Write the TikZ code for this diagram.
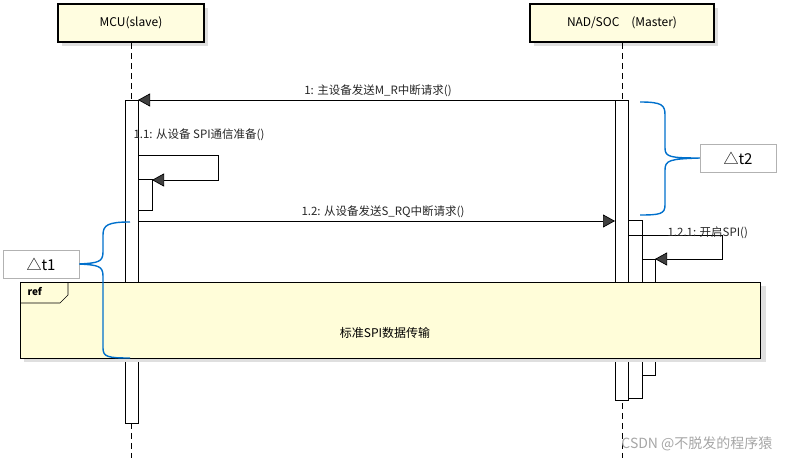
\documentclass[tikz,border=0pt]{standalone}
\usepackage{fontspec}
\setmainfont{Noto Sans CJK SC}
\usetikzlibrary{arrows.meta}
\begin{document}
\begin{tikzpicture}[x=1pt,y=-1pt,
  actor/.style={draw,line width=1.6pt,fill=yellow!12,minimum width=146pt,minimum height=38pt,font=\fontsize{12}{14}\selectfont},
  act/.style={draw,fill=white,line width=0.7pt},
  msg/.style={line width=0.7pt,-{Triangle[length=12pt,width=13pt,fill=gray!50!black]}},
  lbl/.style={font=\fontsize{11.5}{13}\selectfont,text=black!85},
  brace/.style={draw=blue!45!cyan!80!black,line width=1.4pt},
  dbox/.style={draw=gray!60,fill=white,font=\fontsize{15}{17}\selectfont,minimum width=76pt,minimum height=28pt}]
\useasboundingbox (0,0) rectangle (789,465);
\fill[gray!25] (62,8) rectangle (208,46);
\node[actor] (mcu) at (131,23) {MCU(slave)};
\fill[gray!25] (534,8) rectangle (718,46);
\node[actor,minimum width=184pt] (nad) at (622,23) {NAD/SOC\quad (Master)};
\draw[line width=0.7pt,dash pattern=on 6pt off 4pt] (mcu.south) -- (131,458) coordinate (mcuend);
\draw[line width=0.7pt,dash pattern=on 6pt off 4pt] (nad.south) -- (622,458) coordinate (nadend);
% activations
\draw[act] (125,100) rectangle (138,423);
\draw[act] (138,179) rectangle (152,210);
\draw[act] (615,100) rectangle (628,400);
\draw[act] (628,220) rectangle (642,398);
\draw[act] (642,259) rectangle (655,375);
\coordinate (m1s) at (615,100); \coordinate (m1e) at (138,100);
\draw[msg] (m1s) -- (m1e);
\node[lbl] (l1) at (378,91) {1: 主设备发送M\_R中断请求()};
\coordinate (s1a) at (138,155); \coordinate (s1b) at (152,180);
\draw[msg] (s1a) -- (218,155) -- (218,180) -- (s1b);
\node[lbl,anchor=west] (l11) at (130,135) {1.1: 从设备 SPI通信准备()};
\coordinate (m2s) at (138,221); \coordinate (m2e) at (615,221);
\draw[msg] (m2s) -- (m2e);
\node[lbl] (l12) at (383,212) {1.2: 从设备发送S\_RQ中断请求()};
\coordinate (s2a) at (628,235); \coordinate (s2b) at (655,259);
\draw[msg] (s2a) -- (722,235) -- (722,259) -- (s2b);
\node[lbl,anchor=west] (l121) at (664,233) {1.2.1: 开启SPI()};
% ref frame
\fill[gray!25] (24,286) rectangle (766,362);
\node[draw,line width=0.9pt,fill=yellow!15,minimum width=740pt,minimum height=76pt,anchor=north west] (ref) at (20,282) {};
\node[font=\fontsize{12}{14}\selectfont] (reftxt) at (385,333) {标准SPI数据传输};
\draw[line width=0.7pt] (20,303) -- (60,303) -- (68,295) -- (68,282);
\node[font=\fontsize{10}{12}\selectfont\bfseries,anchor=west] (reflbl) at (24,292) {ref};
% braces
\node[dbox] (dt1) at (41,264) {△t1};
\node[dbox] (dt2) at (738,158) {△t2};
\draw[brace] (130,222) .. controls (108,222) and (103,225) .. (103,235) -- (103,252) .. controls (103,262) and (98,263) .. (dt1.east) .. controls (98,265) and (103,266) .. (103,276) -- (103,348) .. controls (103,357) and (108,358) .. (130,358);
\draw[brace] (640,102) .. controls (662,102) and (665,105) .. (665,115) -- (665,148) .. controls (665,157) and (670,158) .. (dt2.west) .. controls (670,159) and (665,160) .. (665,170) -- (665,205) .. controls (665,214) and (660,215) .. (640,215);
\node[text=gray!70,font=\fontsize{14}{16}\selectfont,anchor=east] (wm) at (776,444) {CSDN @不脱发的程序猿};
\end{tikzpicture}
\end{document}
